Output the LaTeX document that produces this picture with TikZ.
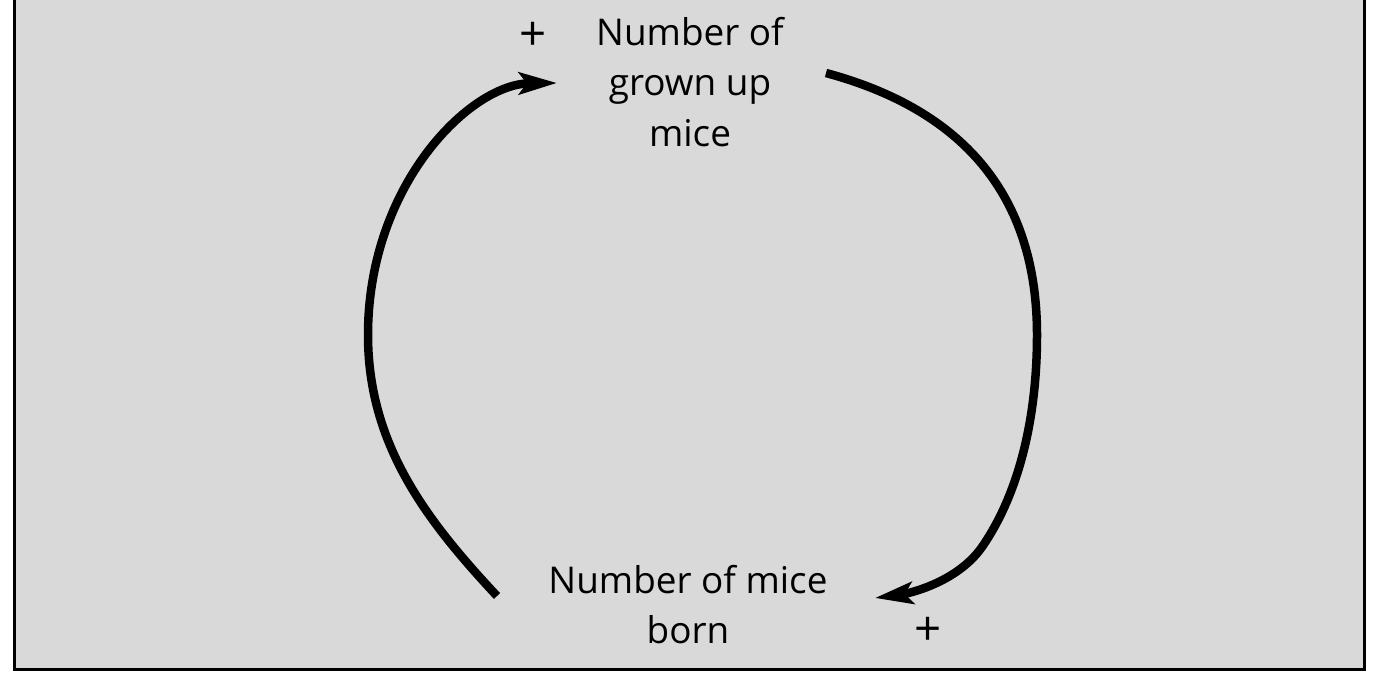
\documentclass[tikz,border=0pt]{standalone}
\usepackage{fontspec}
\setmainfont{Open Sans}
\usepackage{tikz}
\usetikzlibrary{arrows.meta}

\definecolor{panelgray}{HTML}{D9D9D9}

\begin{document}
\begin{tikzpicture}[
            x = 0.02cm, y = 0.02cm, % one unit per pixel
            > = {Stealth[length=0.76cm, width=0.44cm, inset=0.16cm]}, % arrow head style
            line width = 0.17cm, % loop line
            font = \fontsize{21}{28.5}\selectfont
        ]

        \tikzstyle{quantity}=[
            align = center,
            inner sep = 0pt
        ]
        \tikzstyle{sign}=[
            inner sep = 0pt,
            font = \fontsize{27}{30}\selectfont
        ]

% frame
        \useasboundingbox (0,0) rectangle (1383,673);
        \draw[fill = panelgray, line width = 0.06cm] (14.5,3.5) rectangle (1364.5,690);

% quantities
        \node[quantity] (GROWN) at (690,591) {Number of\\grown up\\mice};
        \node[quantity] (BORN) at (688,68) {Number of mice\\born};

        \node[sign] (PLUSG) at (533,637) {+};
        \node[sign] (PLUSB) at (928,42) {+};

% loop
        \coordinate (BORNOUT) at (497,77);
        \coordinate (LEFT) at (368,338);
        \coordinate (GROWNIN) at (557,590);
        \coordinate (GROWNOUT) at (826,600);
        \coordinate (RIGHT) at (1037,338);
        \coordinate (LOWRIGHT) at (982,126);
        \coordinate (BORNIN) at (875,75);

        \draw[->] (BORNOUT) .. controls (427,152) and (368,228) .. (LEFT)
                            .. controls (368,488) and (470,589) .. (GROWNIN);
        \draw[->] (GROWNOUT) .. controls (952,566) and (1037,488) .. (RIGHT)
                             .. controls (1037,248) and (1016,175) .. (LOWRIGHT)
                             .. controls (956,89) and (905,79) .. (BORNIN);

\end{tikzpicture}
\end{document}
